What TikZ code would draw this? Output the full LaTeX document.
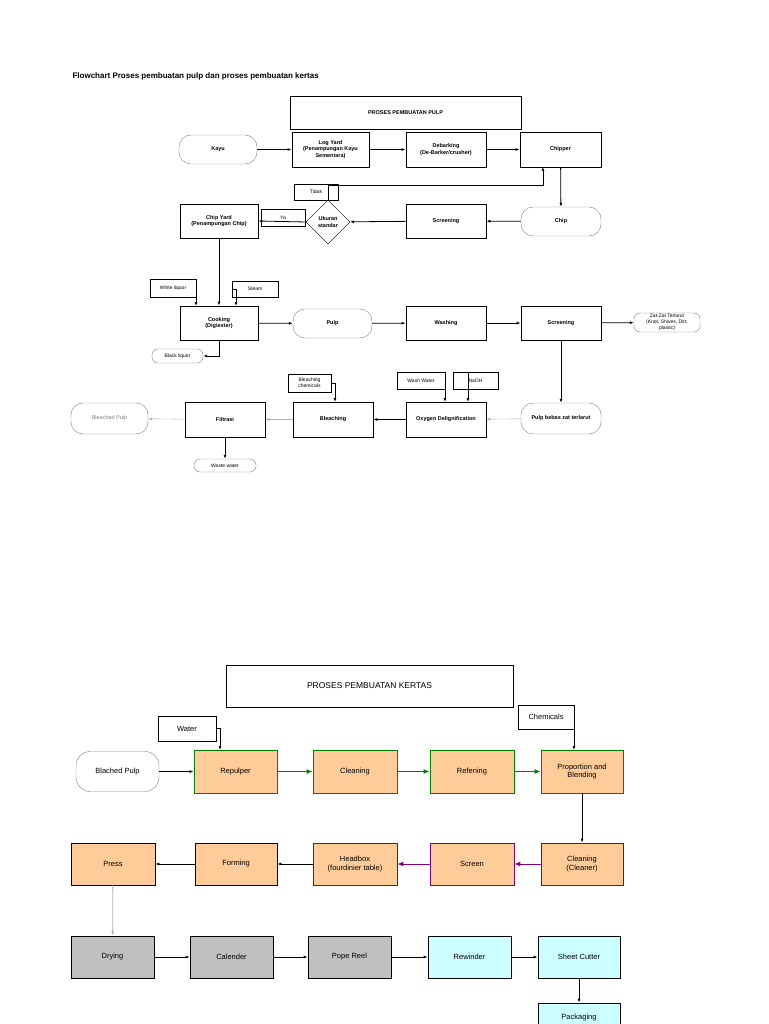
\documentclass[tikz,border=0pt]{standalone}
\usepackage{fontspec}
\setmainfont{Liberation Sans}
\usetikzlibrary{shapes.geometric,arrows.meta}
\definecolor{peach}{HTML}{FFCC99}
\definecolor{dgreen}{HTML}{008000}
\definecolor{purp}{HTML}{800080}
\definecolor{lcyan}{HTML}{CCFFFF}
\definecolor{lgray}{HTML}{C0C0C0}
\begin{document}
\begin{tikzpicture}[x=1pt,y=-1pt,
  bx/.style={draw,thick,inner sep=1pt,align=center,font=\fontsize{5.5}{6.5}\selectfont\bfseries},
  rb/.style={bx,thin,rounded corners=12pt,draw=gray},
  sm/.style={draw,inner sep=1pt,align=center,font=\fontsize{5}{6}\selectfont},
  bb/.style={draw,thick,inner sep=1pt,align=center,font=\fontsize{7.5}{8.5}\selectfont},
  ar/.style={-{Latex[length=4pt,width=3pt]},thick},
  gr/.style={ar,draw=gray!60,thin},
  ga/.style={-{Latex[length=6pt,width=5pt]},line width=1.5pt,draw=dgreen},
  pa/.style={-{Latex[length=6pt,width=5pt]},line width=1pt,draw=purp}]
\useasboundingbox[fill=white] (0,0) rectangle (768,1024);
\node[anchor=west,font=\fontsize{8}{9}\selectfont\bfseries] (ttl) at (69,76) {Flowchart Proses pembuatan pulp dan proses pembuatan kertas};
% pulp
\node[bx,minimum width=231,minimum height=33] (tp) at (405.5,112.5) {PROSES PEMBUATAN PULP};
\node[rb,minimum width=78,minimum height=29] (kayu) at (218,149.5) {Kayu};
\node[bx,minimum width=77,minimum height=35] (log) at (330.5,149.5) {Log Yard\\(Penampungan Kayu\\Sementara)};
\node[bx,minimum width=80,minimum height=35] (deb) at (446,149.5) {Debarking\\(De-Barker/crusher)};
\node[bx,minimum width=81,minimum height=35] (chp) at (560.5,149.5) {Chipper};
\node[sm,minimum width=44,minimum height=16] (tidak) at (316,192) {Tidak};
\node[bx,minimum width=78,minimum height=34] (cy) at (219,221) {Chip Yard\\(Penampungan Chip)};
\node[sm,minimum width=44,minimum height=17] (ya) at (283,217.5) {Ya};
\node[bx,thin,diamond,minimum width=44,minimum height=44,inner sep=0pt] (dia) at (328,222) {Ukuran\\standar};
\node[bx,minimum width=80,minimum height=34] (scr1) at (446,221) {Screening};
\node[rb,minimum width=80,minimum height=29] (chip) at (561,221.5) {Chip};
\node[sm,minimum width=46,minimum height=18] (wl) at (173,288) {White liquor};
\node[sm,minimum width=46,minimum height=16] (st) at (255,289) {Steam};
\node[bx,minimum width=78,minimum height=34] (cook) at (219,323) {Cooking\\(Digiester)};
\node[rb,minimum width=79,minimum height=29] (pulp) at (332.5,323.5) {Pulp};
\node[bx,minimum width=80,minimum height=34] (wash) at (446,323) {Washing};
\node[bx,minimum width=80,minimum height=34] (scr2) at (561,323) {Screening};
\node[sm,draw=gray,rounded corners=6pt,minimum width=66,minimum height=19] (zat) at (667,322.5) {Zat-Zat Terlarut\\(Knot, Shives, Dirt,\\plastic)};
\node[sm,draw=gray,rounded corners=6pt,minimum width=51,minimum height=14] (bl) at (177.5,356) {Black liquor};
\node[sm,minimum width=43,minimum height=18] (bc) at (309.5,383) {Bleaching\\chemicals};
\node[sm,minimum width=48,minimum height=17] (ww) at (421,380.5) {Wash Water};
\node[sm,minimum width=45,minimum height=17] (naoh) at (475.5,380.5) {NaOH};
\node[bx,minimum width=80,minimum height=35] (blc) at (333,419.5) {Bleaching};
\node[bx,minimum width=80,minimum height=35] (oxy) at (446,419.5) {Oxygen Delignification};
\node[rb,minimum width=80,minimum height=31] (pbz) at (561,418.5) {Pulp bebas zat terlarut};
\node[bx,minimum width=80,minimum height=35] (fil) at (225,419.5) {Filtrasi};
\node[rb,text=gray,font=\fontsize{5.5}{6.5}\selectfont,minimum width=77,minimum height=31] (bp) at (109.5,418.5) {Bleached Pulp};
\node[sm,draw=gray,rounded corners=6pt,minimum width=62,minimum height=13] (waste) at (225,465.5) {Waste water};
\draw[ar] (kayu) -- (log);
\draw[ar] (log) -- (deb);
\draw[ar] (deb) -- (chp);
\draw[ar] (chp) -- (chip);
\draw[ar] (chip) -- (scr1);
\draw[ar] (scr1) -- (dia);
\draw[ar] (dia.west) -- (cy.east);
\draw[ar] (dia.north) |- (543,185) -- (543,167);
\draw[ar] (cy) -- (cook);
\draw[ar] (wl.east) -| (196,306);
\draw[ar] (st.west) -| (236,306);
\draw[ar] (cook) -- (pulp);
\draw[ar] (pulp) -- (wash);
\draw[ar] (wash) -- (scr2);
\draw[ar] (scr2) -- (zat);
\draw[ar] (cook.south) |- (bl.east);
\draw[ar] (scr2) -- (pbz);
\draw[gr] (pbz) -- (oxy);
\draw[ar] (oxy) -- (blc);
\draw[gr] (blc) -- (fil);
\draw[gr] (fil) -- (bp);
\draw[ar] (fil) -- (waste);
\draw[ar] (bc.east) -| (335,402);
\draw[ar] (445,372) -- (445,402);
\draw[ar] (468,372) -- (468,402);
% kertas
\node[draw,minimum width=287,minimum height=42,font=\fontsize{8.5}{10}\selectfont] (tk) at (369.5,686) {PROSES PEMBUATAN KERTAS};
\node[draw,thick,minimum width=58,minimum height=25,font=\fontsize{7.5}{9}\selectfont] (water) at (187,728.5) {Water};
\node[draw,thick,minimum width=56,minimum height=24,font=\fontsize{7.5}{9}\selectfont] (chem) at (546,717) {Chemicals};
\node[bb,draw=gray,thin,rounded corners=14pt,minimum width=83,minimum height=40] (bpl) at (117.5,771.5) {Blached Pulp};
\node[bb,fill=peach,draw=dgreen,minimum width=83,minimum height=43] (rep) at (235.5,771.5) {Repulper};
\node[bb,fill=peach,draw=dgreen,minimum width=84,minimum height=43] (cln) at (355,771.5) {Cleaning};
\node[bb,fill=peach,draw=dgreen,minimum width=84,minimum height=43] (ref) at (472,771.5) {Refening};
\node[bb,fill=peach,draw=dgreen,minimum width=82,minimum height=43] (prop) at (582,771.5) {Proportion and\\Blending};
\node[bb,fill=peach,minimum width=84,minimum height=42] (press) at (113,864) {Press};
\node[bb,fill=peach,minimum width=82,minimum height=42] (form) at (236,864) {Forming};
\node[bb,fill=peach,draw=purp,minimum width=84,minimum height=42] (head) at (355,864) {Headbox\\(fourdinier table)};
\node[bb,fill=peach,draw=purp,minimum width=84,minimum height=42] (scrn) at (472,864) {Screen};
\node[bb,fill=peach,draw=purp,minimum width=82,minimum height=42] (clr) at (582,864) {Cleaning\\(Cleaner)};
\node[bb,fill=lgray,minimum width=83,minimum height=42] (dry) at (112.5,957) {Drying};
\node[bb,fill=lgray,minimum width=83,minimum height=42] (cal) at (231.5,957) {Calender};
\node[bb,fill=lgray,minimum width=83,minimum height=42] (pope) at (349.5,957) {Pope Reel};
\node[bb,fill=lcyan,minimum width=83,minimum height=42] (rew) at (469.5,957) {Rewinder};
\node[bb,fill=lcyan,minimum width=82,minimum height=42] (sc) at (579,957) {Sheet Cutter};
\node[bb,fill=lcyan,minimum width=82,minimum height=42,text depth=14pt] (pack) at (579,1024) {Packaging};
\draw[ar] (bpl) -- (rep);
\draw[ga] (rep) -- (cln);
\draw[ga] (cln) -- (ref);
\draw[ga] (ref) -- (prop);
\draw[ar] (water.east) -| (220,750);
\draw[ar] (574,705) -- (574,750);
\draw[ar] (prop) -- (clr);
\draw[pa] (clr) -- (scrn);
\draw[pa] (scrn) -- (head);
\draw[ar] (head) -- (form);
\draw[ar] (form) -- (press);
\draw[gr,thick] (press) -- (dry);
\draw[ar] (dry) -- (cal);
\draw[ar] (cal) -- (pope);
\draw[ar] (pope) -- (rew);
\draw[ar] (rew) -- (sc);
\draw[ar] (sc) -- (pack);
\end{tikzpicture}
\end{document}
